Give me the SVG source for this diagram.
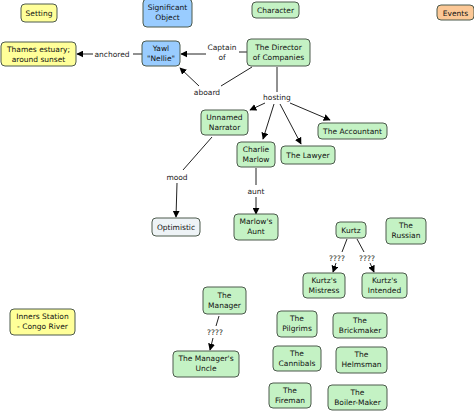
<svg xmlns="http://www.w3.org/2000/svg" width="474" height="412" viewBox="0 0 474 412">
<defs>
<marker id="ah" viewBox="0 0 10 10" refX="9" refY="5" markerWidth="7" markerHeight="7" orient="auto" markerUnits="userSpaceOnUse"><path d="M0,0 L10,5 L0,10 z" fill="#000"/></marker>
<style>
.n rect{stroke:#4d5a4d;stroke-width:1}
.g rect{fill:#c4f2c4}
.y rect{fill:#ffff99}
.b rect{fill:#99ccff}
.o rect{fill:#fcc896}
.w rect{fill:#eef3f6}
text{font-family:"DejaVu Sans",Verdana,sans-serif;font-size:7.5px;fill:#111;text-anchor:middle}
.c line,.c path{stroke:#222;stroke-width:1;fill:none}
.a{marker-end:url(#ah)}
.lbl{fill:#222}
</style>
</defs>
<rect width="474" height="412" fill="#fff"/>
<g class="c" id="connectors">
<line x1="239" y1="52" x2="247" y2="52"/>
<line class="a" x1="206" y1="54" x2="181" y2="54"/>
<text class="lbl" x="222" y="50">Captain</text>
<text class="lbl" x="222" y="60">of</text>
<line x1="252" y1="67" x2="221" y2="86"/>
<line class="a" x1="199" y1="86" x2="180" y2="68"/>
<text class="lbl" x="207" y="95">aboard</text>
<line x1="142" y1="54" x2="133" y2="54"/>
<line class="a" x1="93" y1="54" x2="77" y2="54"/>
<text class="lbl" x="112" y="57">anchored</text>
<line x1="277" y1="67" x2="277" y2="92"/>
<text class="lbl" x="277" y="100">hosting</text>
<line class="a" x1="265" y1="103" x2="250" y2="110"/>
<line class="a" x1="274" y1="104" x2="263" y2="139"/>
<line class="a" x1="280" y1="104" x2="301" y2="144"/>
<line class="a" x1="290" y1="103" x2="330" y2="120"/>
<line x1="212" y1="137" x2="183" y2="170"/>
<text class="lbl" x="177" y="180">mood</text>
<line class="a" x1="177" y1="183" x2="176" y2="217"/>
<line x1="256" y1="168" x2="256" y2="185"/>
<text class="lbl" x="256" y="194">aunt</text>
<line class="a" x1="256" y1="197" x2="256" y2="214"/>
<line x1="347" y1="239" x2="342" y2="252"/>
<text class="lbl" x="337" y="261">????</text>
<line class="a" x1="336" y1="263" x2="333" y2="272"/>
<line x1="357" y1="239" x2="364" y2="252"/>
<text class="lbl" x="367" y="261">????</text>
<line class="a" x1="370" y1="263" x2="374" y2="272"/>
<line x1="219" y1="316" x2="216" y2="326"/>
<text class="lbl" x="215" y="335">????</text>
<line class="a" x1="213" y1="338" x2="210" y2="350"/>
</g>
<g id="setting" class="n y"><rect x="21" y="4" width="36" height="18" rx="4"/><text x="39" y="16">Setting</text></g>
<g id="significant" class="n b"><rect x="143" y="-1" width="49" height="28" rx="4"/><text x="167.5" y="10">Significant</text><text x="167.5" y="20">Object</text></g>
<g id="character" class="n g"><rect x="252" y="2" width="47" height="16" rx="4"/><text x="275.5" y="13">Character</text></g>
<g id="events" class="n o"><rect x="437" y="5" width="37" height="15" rx="4"/><text x="455.5" y="15.5">Events</text></g>
<g id="thames" class="n y"><rect x="1" y="42" width="75" height="24" rx="4"/><text x="38.5" y="52">Thames estuary;</text><text x="38.5" y="62">around sunset</text></g>
<g id="yawl" class="n b"><rect x="142" y="41" width="38" height="25" rx="4"/><text x="161" y="51">Yawl</text><text x="161" y="61">"Nellie"</text></g>
<g id="director" class="n g"><rect x="247" y="39" width="63" height="27" rx="4"/><text x="278.5" y="50">The Director</text><text x="278.5" y="60">of Companies</text></g>
<g id="narrator" class="n g"><rect x="201" y="110" width="47" height="25" rx="4"/><text x="224.5" y="120">Unnamed</text><text x="224.5" y="130">Narrator</text></g>
<g id="marlow" class="n g"><rect x="237" y="142" width="38" height="25" rx="4"/><text x="256" y="152">Charlie</text><text x="256" y="162">Marlow</text></g>
<g id="lawyer" class="n g"><rect x="281" y="146" width="54" height="18" rx="4"/><text x="308" y="158">The Lawyer</text></g>
<g id="accountant" class="n g"><rect x="318" y="123" width="69" height="16" rx="4"/><text x="352.5" y="134">The Accountant</text></g>
<g id="optimistic" class="n w"><rect x="152" y="218" width="48" height="18" rx="4"/><text x="176" y="230">Optimistic</text></g>
<g id="aunt" class="n g"><rect x="234" y="214" width="44" height="26" rx="4"/><text x="256" y="224">Marlow's</text><text x="256" y="234">Aunt</text></g>
<g id="kurtz" class="n g"><rect x="336" y="222" width="30" height="16" rx="4"/><text x="351" y="233">Kurtz</text></g>
<g id="russian" class="n g"><rect x="386" y="218" width="40" height="26" rx="4"/><text x="406" y="228">The</text><text x="406" y="238">Russian</text></g>
<g id="mistress" class="n g"><rect x="303" y="273" width="42" height="25" rx="4"/><text x="324" y="283">Kurtz's</text><text x="324" y="293">Mistress</text></g>
<g id="intended" class="n g"><rect x="362" y="273" width="45" height="25" rx="4"/><text x="384.5" y="283">Kurtz's</text><text x="384.5" y="293">Intended</text></g>
<g id="inners" class="n y"><rect x="10" y="309" width="65" height="26" rx="4"/><text x="42.5" y="319">Inners Station</text><text x="42.5" y="329">- Congo River</text></g>
<g id="manager" class="n g"><rect x="203" y="287" width="43" height="27" rx="4"/><text x="224.5" y="298">The</text><text x="224.5" y="308">Manager</text></g>
<g id="uncle" class="n g"><rect x="173" y="351" width="66" height="26" rx="4"/><text x="206" y="361">The Manager's</text><text x="206" y="371">Uncle</text></g>
<g id="pilgrims" class="n g"><rect x="277" y="311" width="40" height="26" rx="4"/><text x="297" y="321">The</text><text x="297" y="331">Pilgrims</text></g>
<g id="brickmaker" class="n g"><rect x="333" y="313" width="54" height="25" rx="4"/><text x="360" y="323">The</text><text x="360" y="333">Brickmaker</text></g>
<g id="cannibals" class="n g"><rect x="273" y="346" width="48" height="25" rx="4"/><text x="297" y="356">The</text><text x="297" y="366">Cannibals</text></g>
<g id="helmsman" class="n g"><rect x="336" y="347" width="51" height="26" rx="4"/><text x="361.5" y="357">The</text><text x="361.5" y="367">Helmsman</text></g>
<g id="fireman" class="n g"><rect x="269" y="383" width="42" height="25" rx="4"/><text x="290" y="393">The</text><text x="290" y="403">Fireman</text></g>
<g id="boilermaker" class="n g"><rect x="328" y="385" width="59" height="25" rx="4"/><text x="357.5" y="395">The</text><text x="357.5" y="405">Boiler-Maker</text></g>
</svg>
